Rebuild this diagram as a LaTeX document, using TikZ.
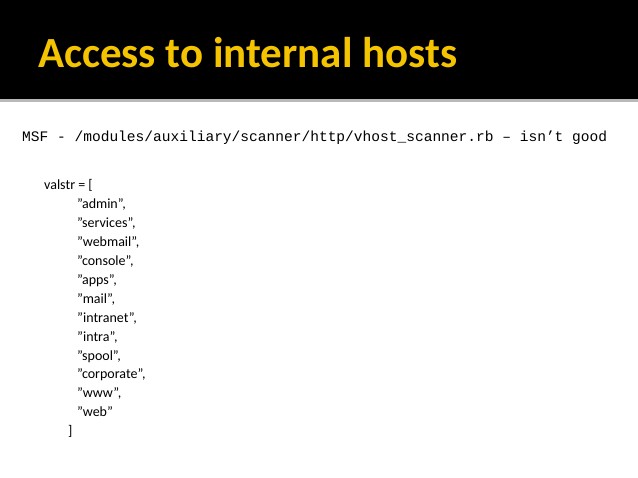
\documentclass[tikz,border=0pt]{standalone}
\usepackage{fontspec}
\setmainfont{Carlito}
\newfontfamily\monof{Liberation Mono}
\definecolor{titley}{HTML}{F5C400}
\begin{document}
\begin{tikzpicture}[x=1pt,y=-1pt,
  lst/.style={anchor=base west,inner sep=0pt,font=\fontsize{14}{16}\selectfont}]
\useasboundingbox (0,0) rectangle (638,478);
\fill[black] (0,0) rectangle (638,99);
\fill[gray!55] (0,99) rectangle (638,102);
\node[anchor=base west,inner sep=0pt,text=titley,font=\bfseries\fontsize{43}{46}\selectfont] (title) at (38,68) {Access to internal hosts};
\node[anchor=base west,inner sep=0pt] (msf) at (22,142) {\resizebox{585pt}{!}{\monof\fontsize{14}{16}\selectfont MSF - /modules/auxiliary/scanner/http/vhost\_scanner.rb – isn’t good}};
\node[lst] (v) at (44,190) {valstr = [};
\foreach \t [count=\i] in {"admin",,"services",,"webmail",,"console",,"apps",,"mail",,"intranet",,"intra",,"spool",,"corporate",,"www",,"web"}
  {}
\foreach \t [count=\i] in {admin,services,webmail,console,apps,mail,intranet,intra,spool,corporate,www}
  \node[lst] (i\i) at (77,190+\i*18.9) {"\t",};
\node[lst] (i12) at (77,190+12*18.9) {"web"};
\node[lst] (close) at (68,190+13*18.9) {]};
\end{tikzpicture}
\end{document}
